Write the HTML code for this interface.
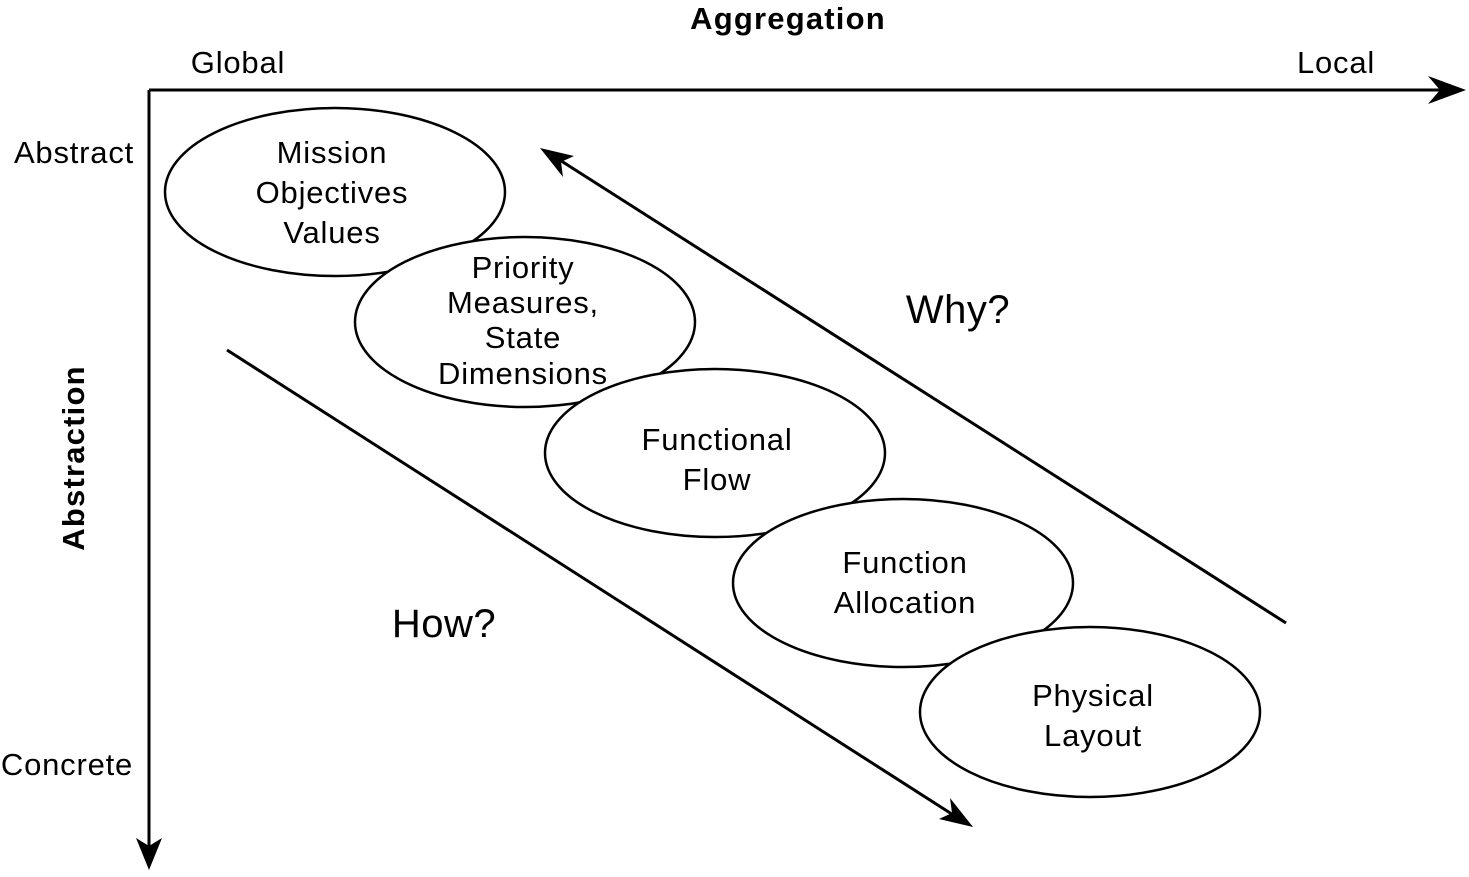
<!DOCTYPE html>
<html><head><style>html,body{margin:0;padding:0;background:#fff}</style></head><body>
<svg width="1469" height="872" viewBox="0 0 1469 872" xmlns="http://www.w3.org/2000/svg" font-family="Liberation Sans, sans-serif">
<g stroke="#000" stroke-width="3" fill="none">
<line x1="149" y1="90" x2="1450" y2="90"/>
<line x1="149" y1="90" x2="149" y2="855"/>
<line x1="1286" y1="623" x2="555" y2="157"/>
<line x1="227" y1="350" x2="958" y2="818"/>
</g>
<g fill="#000">
<polygon points="1466,90 1428,76 1440,90 1428,104"/>
<polygon points="149,870 136,838 149,846 162,838"/>
<polygon points="540,148 574,156 561,162 563,177"/>
<polygon points="973,827 939,819 952,813 950,798"/>
</g>
<g stroke="#000" stroke-width="2.5" fill="#fff">
<ellipse cx="335" cy="192" rx="170" ry="84"/>
<ellipse cx="525" cy="322" rx="170" ry="85"/>
<ellipse cx="715" cy="453" rx="170" ry="84"/>
<ellipse cx="903" cy="583" rx="170" ry="84"/>
<ellipse cx="1090" cy="712" rx="170" ry="85"/>
</g>
<g font-size="31" letter-spacing="0.8" text-anchor="middle" fill="#000">
<text x="332" y="163">Mission</text>
<text x="332" y="203">Objectives</text>
<text x="332" y="243">Values</text>
<text x="523" y="278">Priority</text>
<text x="523" y="313">Measures,</text>
<text x="523" y="348">State</text>
<text x="523" y="384">Dimensions</text>
<text x="717" y="450">Functional</text>
<text x="717" y="490">Flow</text>
<text x="905" y="573">Function</text>
<text x="905" y="613">Allocation</text>
<text x="1093" y="706">Physical</text>
<text x="1093" y="746">Layout</text>
<text x="238" y="73">Global</text>
<text x="1336" y="73">Local</text>
<text x="74" y="163">Abstract</text>
<text x="67" y="775">Concrete</text>
<text x="958" y="323" font-size="40" letter-spacing="0.5">Why?</text>
<text x="444" y="637" font-size="40" letter-spacing="0.5">How?</text>
<text x="788" y="29" font-weight="bold" letter-spacing="1.2">Aggregation</text>
<text x="0" y="0" font-weight="bold" letter-spacing="1.2" transform="translate(84,458) rotate(-90)">Abstraction</text>
</g>
</svg>
</body></html>
